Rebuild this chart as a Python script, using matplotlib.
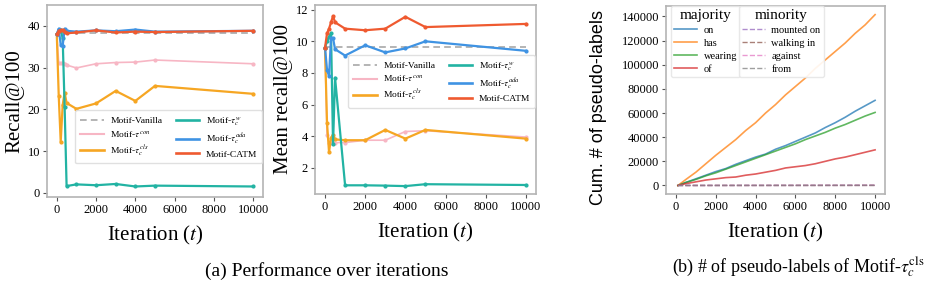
import numpy as np
import matplotlib
matplotlib.use('Agg')
from matplotlib import pyplot as plt
from matplotlib.lines import Line2D

''' data '''
iters = [0, 100, 200, 300, 400, 500, 1000, 2000, 3000, 4000, 5000, 10000]

recall_vanilla = [38.2] * len(iters)
recall_con = [38.0, 31.0, 31.0, 31.2, 30.9, 30.6, 29.9, 30.9, 31.2, 31.3, 31.8, 30.9]
recall_cls = [38.0, 23.2, 12.2, 21.0, 24.0, 21.5, 20.1, 21.4, 24.4, 22.0, 25.6, 23.7]
recall_w = [38.0, 39.0, 39.0, 37.0, 20.5, 1.6, 2.0, 1.8, 2.1, 1.5, 1.7, 1.5]
recall_ada = [38.0, 39.3, 35.5, 35.2, 39.3, 38.8, 38.6, 38.9, 38.7, 39.1, 38.6, 38.8]
recall_catm = [38.0, 38.8, 39.0, 38.9, 38.5, 38.2, 38.4, 38.9, 38.4, 38.6, 38.5, 38.8]

mrecall_vanilla = [9.62] * len(iters)
mrecall_con = [9.6, 4.05, 3.6, 3.6, 3.6, 3.6, 3.6, 3.75, 3.75, 4.3, 4.35, 3.95]
mrecall_cls = [9.6, 4.85, 3.0, 3.9, 4.1, 3.8, 3.75, 3.75, 4.4, 3.85, 4.4, 3.85]
mrecall_w = [9.6, 10.0, 10.3, 10.5, 3.5, 7.7, 0.9, 0.9, 0.88, 0.85, 0.97, 0.92]
mrecall_ada = [9.6, 8.2, 7.8, 10.2, 10.2, 9.5, 9.1, 9.75, 9.3, 9.55, 10.0, 9.4]
mrecall_catm = [9.6, 10.5, 10.8, 11.2, 11.6, 11.2, 10.8, 10.7, 10.8, 11.55, 10.9, 11.1]

method_names = ['Motif-Vanilla', r'Motif-$\tau^{con}$', r'Motif-$\tau_c^{cls}$',
                r'Motif-$\tau_c^{w}$', r'Motif-$\tau_c^{ada}$', 'Motif-CATM']

pl_iters = [100, 500, 1000, 1500, 2000, 2500, 3000, 3500, 4000, 4500, 5000,
            5500, 6000, 6500, 7000, 7500, 8000, 8500, 9000, 9500, 10000]
pl_on = [0, 2500, 5500, 8500, 11500, 14000, 17500, 20500, 23500, 26000, 30000,
         33000, 36500, 40000, 43500, 48000, 52000, 56500, 61500, 66000, 70500]
pl_has = [0, 5000, 11000, 18000, 25000, 31500, 38000, 45500, 52000, 60000, 67000,
          75000, 82000, 89000, 97000, 104000, 111000, 118000, 126000, 133000, 141500]
pl_wearing = [0, 2500, 5000, 8000, 10500, 13500, 16500, 19500, 22500, 25500, 28500,
              31500, 34500, 38000, 41000, 44000, 47500, 50500, 54000, 57500, 60500]
pl_of = [0, 1500, 3000, 4500, 5500, 6500, 7000, 8500, 9500, 11000, 12500,
         14500, 15500, 16500, 18000, 20000, 22000, 23500, 25500, 27500, 29500]
pl_mounted_on = [0, 5, 10, 15, 20, 30, 40, 45, 50, 60, 70, 75, 80, 90, 100, 110, 115, 120, 130, 140, 150]
pl_walking_in = [0, 2, 5, 8, 10, 15, 20, 25, 30, 32, 35, 40, 45, 50, 55, 60, 62, 65, 70, 75, 80]
pl_against = [0, 2, 4, 6, 8, 10, 14, 18, 20, 22, 25, 28, 30, 35, 38, 40, 45, 48, 52, 56, 60]
pl_from = [0, 1, 2, 3, 5, 7, 9, 11, 13, 15, 17, 19, 21, 23, 25, 27, 29, 31, 34, 37, 40]

majority_names = ['on', 'has', 'wearing', 'of']
minority_names = ['mounted on', 'walking in', 'against', 'from']

''' style knobs '''
serif = 'Liberation Serif'
plt.rcParams['font.family'] = serif
plt.rcParams['mathtext.fontset'] = 'stix'
tick_fs = 9
label_fs = 15
spine_color = '#b4b4b4'
method_colors = ['#a8a8a8', '#f7b6c4', '#f6a623', '#22b3a3', '#3f93e3', '#ef5a30']
method_lw = [1.2, 1.2, 1.6, 1.6, 1.6, 1.6]

fig = plt.figure(figsize=(9.28, 2.9), dpi=100)


def style_ax(ax):
    for s in ax.spines.values():
        s.set_color(spine_color)
        s.set_linewidth(1.2)
    ax.tick_params(labelsize=tick_fs, length=3, width=0.8, color='#555555', pad=2)
    ax.set_xlim(-500, 10500)
    ax.set_xticks([0, 2000, 4000, 6000, 8000, 10000])
    ax.set_xlabel('Iteration ($t$)', fontsize=label_fs, labelpad=6)


def draw_methods(ax, series, legend_anchor):
    handles = []
    for i, ys in enumerate(series):
        if i == 0:
            ax.plot(iters, ys, color=method_colors[i], lw=method_lw[i], ls=(0, (4, 2.5)))
            handles.append(Line2D([], [], color=method_colors[i], lw=method_lw[i], ls=(0, (4, 2.5))))
        else:
            ax.plot(iters, ys, color=method_colors[i], lw=method_lw[i], marker='o', markersize=2)
            handles.append(Line2D([], [], color=method_colors[i], lw=method_lw[i] + 0.3))
    ax.legend(handles, method_names, loc='lower left', bbox_to_anchor=legend_anchor, ncol=2,
              fontsize=6.8, handlelength=2.5, handletextpad=0.7, columnspacing=1.4,
              labelspacing=0.4, borderpad=0.5,
              frameon=True, framealpha=0.9, edgecolor='#dddddd', fancybox=True)


''' (a) Recall@100 '''
ax1 = fig.add_axes([0.0506, 0.321, 0.2328, 0.662])
draw_methods(ax1, [recall_vanilla, recall_con, recall_cls, recall_w, recall_ada, recall_catm],
             (0.11, 0.15))
style_ax(ax1)
ax1.set_ylim(-1, 45)
ax1.set_yticks([0, 10, 20, 30, 40])
ax1.set_ylabel('Recall@100', fontsize=label_fs, labelpad=2)

''' (a) Mean recall@100 '''
ax2 = fig.add_axes([0.3394, 0.331, 0.2381, 0.652])
draw_methods(ax2, [mrecall_vanilla, mrecall_con, mrecall_cls, mrecall_w, mrecall_ada, mrecall_catm],
             (0.13, 0.43))
style_ax(ax2)
ax2.set_ylim(0.35, 12.3)
ax2.set_yticks([2, 4, 6, 8, 10, 12])
ax2.set_ylabel('Mean recall@100', fontsize=label_fs, labelpad=2)

''' (b) pseudo-labels '''
ax3 = fig.add_axes([0.7177, 0.331, 0.236, 0.648])
maj = [pl_on, pl_has, pl_wearing, pl_of]
maj_colors = ['tab:blue', 'tab:orange', 'tab:green', 'tab:red']
h_maj = []
for ys, c, n in zip(maj, maj_colors, majority_names):
    h, = ax3.plot(pl_iters, ys, color=c, lw=1.2, alpha=0.75, label=n)
    h_maj.append(h)
mino = [pl_mounted_on, pl_walking_in, pl_against, pl_from]
mino_colors = ['tab:purple', 'tab:brown', 'tab:pink', 'tab:gray']
h_min = []
for ys, c, n in zip(mino, mino_colors, minority_names):
    h, = ax3.plot(pl_iters, ys, color=c, lw=1.0, ls='--', alpha=0.75, label=n)
    h_min.append(h)
style_ax(ax3)
ax3.set_yticks(np.arange(0, 140001, 20000))
ax3.set_ylabel('Cum. # of pseudo-labels', fontsize=13, family='Liberation Sans')
ax3.yaxis.set_label_coords(-0.27, 0.46)

leg_maj = ax3.legend(h_maj, majority_names, title='majority', loc='upper left',
                     bbox_to_anchor=(0.0, 1.03), fontsize=7.5, title_fontsize=11,
                     handlelength=2.2, handletextpad=0.6, labelspacing=0.35, frameon=True,
                     edgecolor='#e6e6e6', framealpha=0.9, borderpad=0.3)
ax3.add_artist(leg_maj)
ax3.legend(h_min, minority_names, title='minority', loc='upper left',
           bbox_to_anchor=(0.31, 1.03), fontsize=7.5, title_fontsize=11,
           handlelength=2.2, handletextpad=0.6, labelspacing=0.35, frameon=True,
           edgecolor='#e6e6e6', framealpha=0.9, borderpad=0.3)

''' captions '''
fig.text(0.352, 0.065, '(a) Performance over iterations', ha='center', va='center', fontsize=14)
fig.text(0.996, 0.075, r'(b) # of pseudo-labels of Motif-$\tau_c^{\mathrm{cls}}$',
         ha='right', va='center', fontsize=13)

fig.savefig('out.png', dpi=100)
